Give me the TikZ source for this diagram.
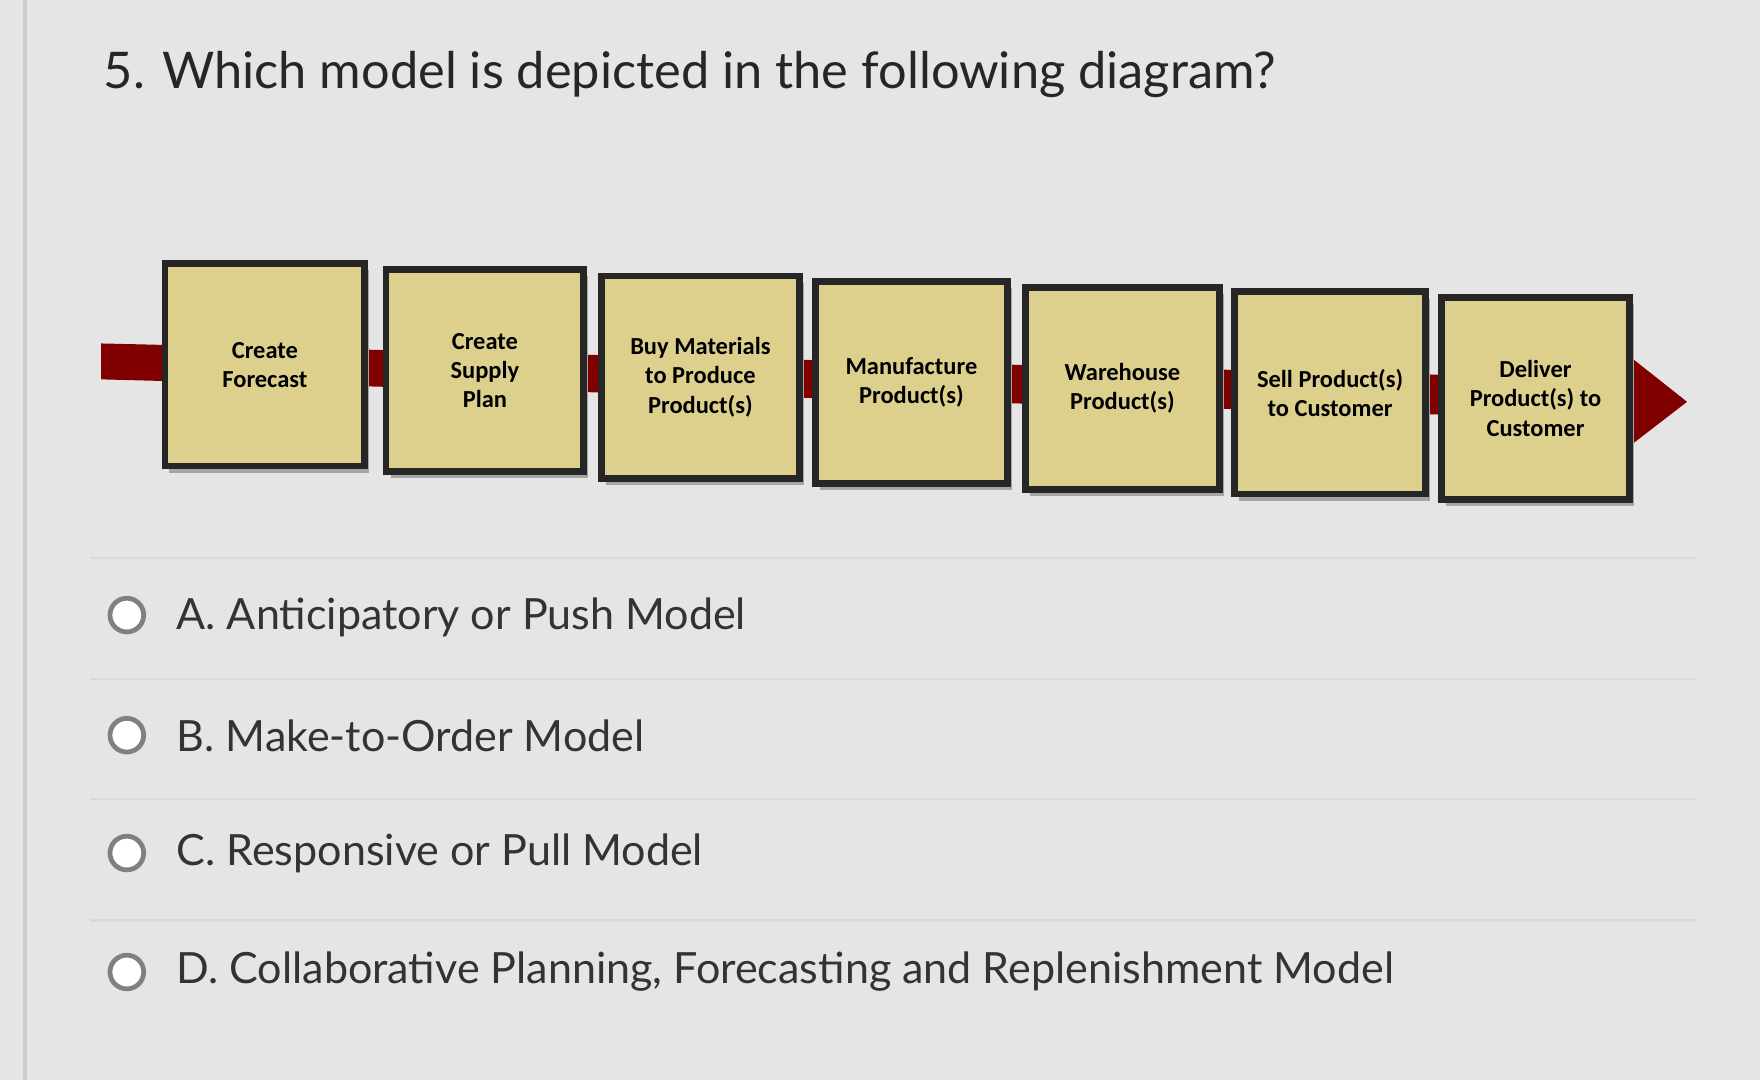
\documentclass[tikz,border=0pt]{standalone}
\usepackage{fontspec}
\setmainfont{Lato}
\newfontfamily\boxfont{Carlito}
\definecolor{boxfill}{HTML}{DDD08C}
\begin{document}
\begin{tikzpicture}[x=0.01cm,y=-0.01cm,
  stepbox/.style={draw=black!85,line width=1.7pt,fill=boxfill,minimum width=#1,align=center,font=\boxfont\bfseries\fontsize{6.2}{7.4}\selectfont,inner sep=1pt},
  sep/.style={draw=black!15,line width=0.6pt},
  opt/.style={anchor=west,font=\fontsize{10.9}{13}\selectfont,text=black!80},
  radio/.style={circle,draw=black!50,line width=1.2pt,fill=white,minimum size=0.3cm,inner sep=0pt}]
\useasboundingbox (0,0) rectangle (1568,962);
\fill[black!10] (0,0) rectangle (1568,962);
\draw[black!20,line width=1pt] (22,0) -- (22,962);
\node[anchor=west,font=\fontsize{12.8}{15}\selectfont,text=black!85] (title) at (80,66) {5. Which model is depicted in the following diagram?};
% arrow bar
\fill[red!50!black] (90,306) -- (1460,338) -- (1460,374) -- (90,338) -- cycle;
\fill[red!50!black] (1455,320) -- (1503,358) -- (1455,395) -- cycle;
\coordinate (tip) at (1503,358);
% boxes
\foreach \n/\x/\y/\w/\t in {
 b1/236/325/178/{Create\\Forecast},
 b2/432/330/176/{Create\\Supply\\Plan},
 b3/624/336/176/{Buy Materials\\to Produce\\Product(s)},
 b4/812/341/171/{Manufacture\\Product(s)},
 b5/1000/346/173/{Warehouse\\Product(s)},
 b6/1185/350/170/{Sell Product(s)\\to Customer},
 b7/1368/355/168/{Deliver\\Product(s) to\\Customer}}{
  \fill[black!35] (\x-\w/2+4,\y-84) rectangle (\x+\w/2+4,\y+96);
  \node[stepbox=\w*0.01cm,minimum height=1.8cm] (\n) at (\x,\y) {\t};
}
% separators
\foreach \yy in {497,605,712,820}{\draw[sep] (80,\yy) -- (1510,\yy);}
\node[radio] (ra) at (113,548) {};
\node[opt] (ta) at (145,550) {A. Anticipatory or Push Model};
\node[radio] (rb) at (113,655) {};
\node[opt] (tb) at (145,656) {B. Make-to-Order Model};
\node[radio] (rc) at (113,760) {};
\node[opt] (tc) at (145,760) {C. Responsive or Pull Model};
\node[radio] (rd) at (113,866) {};
\node[opt] (td) at (145,866) {D. Collaborative Planning, Forecasting and Replenishment Model};
\end{tikzpicture}
\end{document}
